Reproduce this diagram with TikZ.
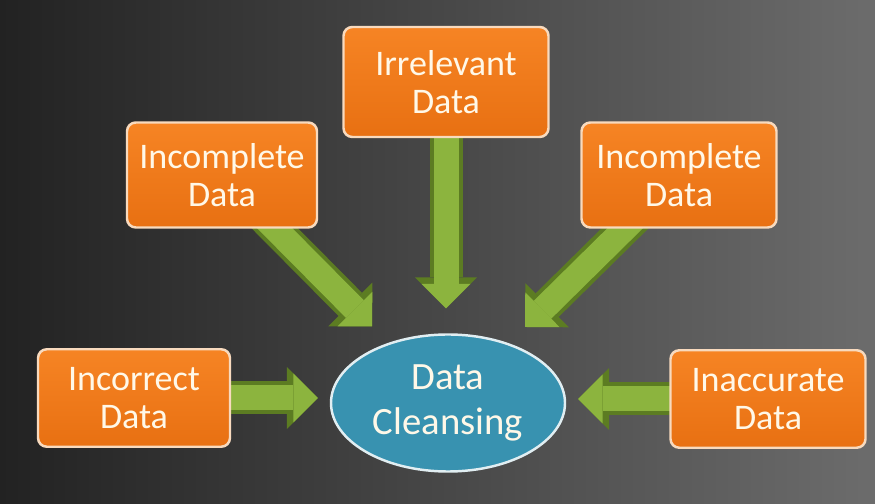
\documentclass[tikz,border=0pt]{standalone}
\usepackage{fontspec}
\setmainfont{Carlito}
\definecolor{BgDark}{RGB}{34,34,34}
\definecolor{BgMid}{RGB}{66,66,66}
\definecolor{BgLight}{RGB}{108,108,108}
\definecolor{BoxOrange}{RGB}{232,112,18}
\definecolor{BoxTop}{RGB}{246,132,36}
\definecolor{BoxEdge}{RGB}{248,218,190}
\definecolor{HubBlue}{RGB}{56,146,176}
\definecolor{HubEdge}{RGB}{225,238,242}
\definecolor{ArrowGreen}{RGB}{140,180,62}
\definecolor{ArrowDark}{RGB}{92,124,34}
\definecolor{TextCream}{RGB}{255,248,232}
\usetikzlibrary{arrows.meta,shapes.geometric,backgrounds}

\begin{document}
\begin{tikzpicture}[
  issue/.style={draw=BoxEdge, line width=1.4pt, rounded corners=5pt,
    top color=BoxTop, bottom color=BoxOrange, text=TextCream, align=center,
    inner sep=0pt, font=\fontsize{20.5}{21.5}\selectfont},
  hub/.style={ellipse, draw=HubEdge, line width=1.4pt, fill=HubBlue,
    text=TextCream, align=center, inner sep=0pt,
    minimum width=4.68cm, minimum height=2.74cm,
    font=\fontsize{22}{26}\selectfont},
  feed/.style={draw=ArrowDark, line width=0.66cm,
    -{Triangle[width=1.24cm,length=0.62cm,line width=0pt]},
    postaction={draw=ArrowGreen, line width=0.5cm,
      -{Triangle[width=0.98cm,length=0.49cm,line width=0pt]}}}
]
\useasboundingbox (0,0) rectangle (17.5,10.08);

% centre
\node[hub] (clean) at (8.96,2.02) {Data\\Cleansing};

% sources
\node[issue, minimum width=4.1cm, minimum height=2.2cm] (irr) at (8.92,8.44) {Irrelevant\\Data};
\node[issue, minimum width=3.8cm, minimum height=2.1cm] (incl) at (4.44,6.58) {Incomplete\\Data};
\node[issue, minimum width=3.9cm, minimum height=2.1cm] (incr) at (13.58,6.58) {Incomplete\\Data};
\node[issue, minimum width=3.84cm, minimum height=1.95cm] (incorrect) at (2.68,2.12) {Incorrect\\Data};
\node[issue, minimum width=3.9cm, minimum height=1.95cm] (inaccurate) at (15.36,2.10) {Inaccurate\\Data};

\begin{pgfonlayer}{background}
% background
\fill[left color=BgDark, middle color=BgMid, right color=BgLight]
  (0,0) rectangle (17.5,10.08);
% arrows into the centre, tucked under the boxes
\draw[feed, shorten <=-0.6cm, shorten >=0.46cm] (incl) -- (clean);
\draw[feed, shorten <=-0.3cm, shorten >=0.5cm] (irr.south) -- (irr.south |- clean.north);
\draw[feed, shorten <=-0.6cm, shorten >=0.46cm] (incr) -- (clean);
\draw[feed, shorten <=-0.3cm, shorten >=0.24cm] (incorrect.east) -- (incorrect.east -| clean.west);
\draw[feed, shorten <=-0.3cm, shorten >=0.24cm] (inaccurate.west) -- (inaccurate.west -| clean.east);
\end{pgfonlayer}
\end{tikzpicture}
\end{document}
